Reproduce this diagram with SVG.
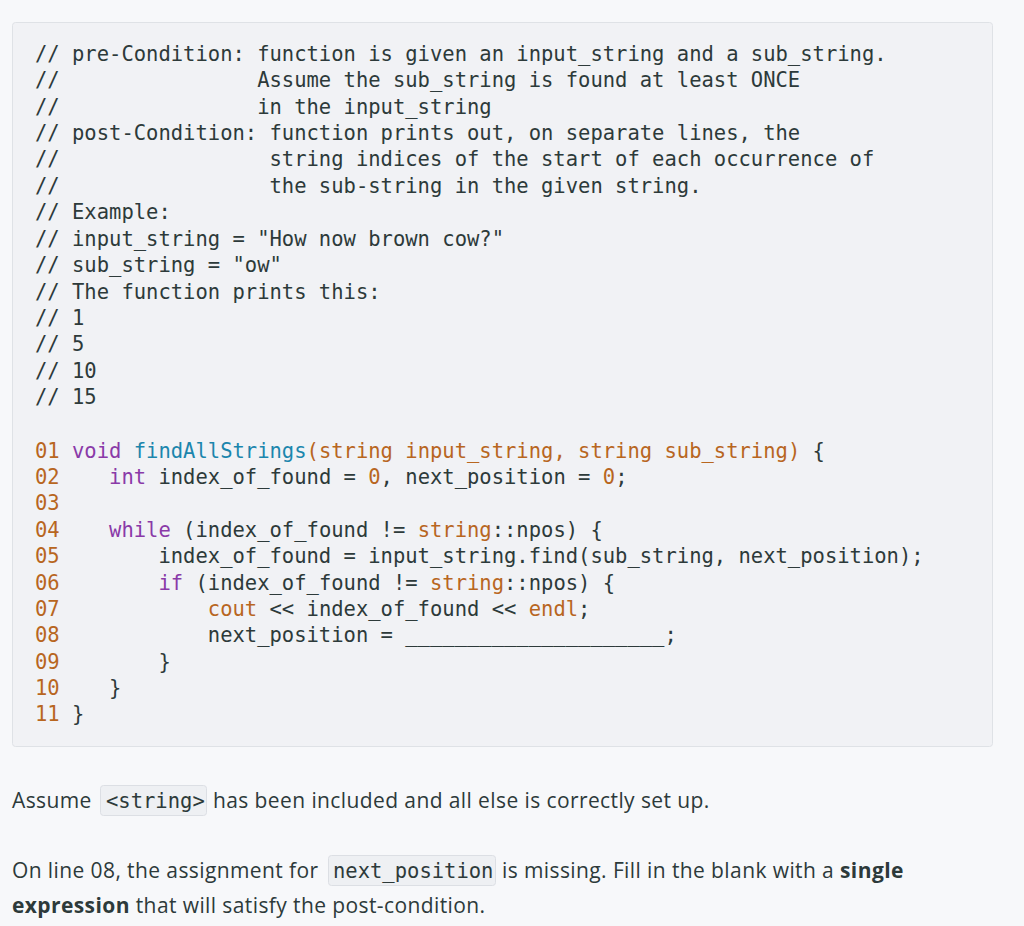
<svg xmlns="http://www.w3.org/2000/svg" width="1024" height="926" viewBox="0 0 1024 926">
<style>
text{white-space:pre}
.m{font-family:"DejaVu Sans Mono","Liberation Mono",monospace;font-size:20.5px;fill:#2d3a3a;letter-spacing:0}
.n{fill:#b8661f}.k{fill:#8a3aa8}.f{fill:#1c86ad}.o{fill:#b8661f}
.p{font-family:"Open Sans",Lato,sans-serif;font-size:21px;letter-spacing:0.4px;fill:#2d3a3a}
.cb{fill:#eef0f3;stroke:#dcdfe4}
</style>
<rect width="1024" height="926" fill="#f7f8fa"/>
<g id="codebox">
<rect x="12.5" y="22.5" width="980" height="724" rx="3" fill="#f1f2f5" stroke="#dfe2e6"/>
<g class="m" xml:space="preserve">
<text x="35" y="61">// pre-Condition: function is given an input_string and a sub_string.</text>
<text x="35" y="87">//                Assume the sub_string is found at least ONCE</text>
<text x="35" y="114">//                in the input_string</text>
<text x="35" y="140">// post-Condition: function prints out, on separate lines, the</text>
<text x="35" y="166">//                 string indices of the start of each occurrence of</text>
<text x="35" y="193">//                 the sub-string in the given string.</text>
<text x="35" y="219">// Example:</text>
<text x="35" y="246">// input_string = "How now brown cow?"</text>
<text x="35" y="272">// sub_string = "ow"</text>
<text x="35" y="299">// The function prints this:</text>
<text x="35" y="325">// 1</text>
<text x="35" y="351">// 5</text>
<text x="35" y="378">// 10</text>
<text x="35" y="404">// 15</text>
<text x="35" y="458"><tspan class="n">01</tspan> <tspan class="k">void</tspan> <tspan class="f">findAllStrings</tspan><tspan class="o">(string input_string, string sub_string)</tspan> {</text>
<text x="35" y="484"><tspan class="n">02</tspan>    <tspan class="k">int</tspan> index_of_found = <tspan class="o">0</tspan>, next_position = <tspan class="o">0</tspan>;</text>
<text x="35" y="510"><tspan class="n">03</tspan></text>
<text x="35" y="537"><tspan class="n">04</tspan>    <tspan class="k">while</tspan> (index_of_found != <tspan class="o">string</tspan>::npos) {</text>
<text x="35" y="563"><tspan class="n">05</tspan>        index_of_found = input_string.find(sub_string, next_position);</text>
<text x="35" y="590"><tspan class="n">06</tspan>        <tspan class="k">if</tspan> (index_of_found != <tspan class="o">string</tspan>::npos) {</text>
<text x="35" y="616"><tspan class="n">07</tspan>            <tspan class="o">cout</tspan> &lt;&lt; index_of_found &lt;&lt; <tspan class="o">endl</tspan>;</text>
<text x="35" y="642"><tspan class="n">08</tspan>            next_position = _____________________;</text>
<text x="35" y="669"><tspan class="n">09</tspan>        }</text>
<text x="35" y="695"><tspan class="n">10</tspan>    }</text>
<text x="35" y="721"><tspan class="n">11</tspan> }</text>
</g>
</g>
<g id="footer">
<rect class="cb" x="100.5" y="785.5" width="106" height="30" rx="3"/>
<rect class="cb" x="328.5" y="855.5" width="167" height="30" rx="3"/>
<text class="p" x="12" y="808">Assume<tspan class="m" x="106">&lt;string&gt;</tspan><tspan x="213">has been included and all else is correctly set up.</tspan></text>
<text class="p" x="12" y="878">On line 08, the assignment for<tspan class="m" x="333">next_position</tspan><tspan x="502">is missing. Fill in the blank with a </tspan><tspan font-weight="bold">single</tspan></text>
<text class="p" x="12" y="913"><tspan font-weight="bold">expression</tspan> that will satisfy the post-condition.</text>
</g>
</svg>
